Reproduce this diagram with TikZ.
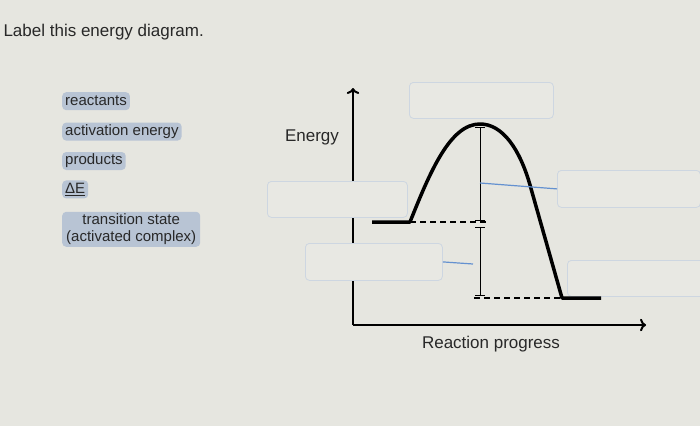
\documentclass[tikz,border=0pt]{standalone}
\usepackage{fontspec}
\setmainfont{Liberation Sans}
\usetikzlibrary{arrows.meta,positioning}

\definecolor{bg}{RGB}{230,230,224}
\definecolor{ink}{RGB}{40,40,40}
\definecolor{tagblue}{RGB}{184,196,212}
\definecolor{slotline}{RGB}{205,214,225}
\definecolor{slotfill}{RGB}{232,232,227}
\definecolor{hintblue}{RGB}{100,145,208}

\begin{document}
\begin{tikzpicture}[x=1pt,y=-1pt,node distance=11pt,font=\fontsize{15}{17}\selectfont,text=ink]
  \tikzstyle{tag}=[fill=tagblue,rounded corners=4pt,inner xsep=3pt,inner ysep=0pt,minimum height=18pt]
  \tikzstyle{slot}=[draw=slotline,fill=slotfill,rounded corners=4pt,line width=0.8pt,inner sep=0pt,anchor=north west]
  \tikzstyle{hint}=[draw=hintblue,line width=1.2pt]
  \tikzstyle{bigtext}=[font=\fontsize{17}{20}\selectfont]

  \useasboundingbox (0,0) rectangle (700,426);
  \fill[bg] (0,0) rectangle (700,426);

  \node[bigtext,anchor=west] (title) at (0,32) {Label this energy diagram.};

  % answer tags
  \node[tag,anchor=north west]                                   (reac) at (62,92) {reactants};
  \node[tag,below=12pt of reac.south west,anchor=north west]     (act)  {activation energy};
  \node[tag,below=of act.south west,anchor=north west]           (prod) {products};
  \node[tag,below=10pt of prod.south west,anchor=north west]     (dE)   {\underline{ΔE}};
  \node[tag,below=13pt of dE.south west,anchor=north west,align=center,minimum width=138pt,minimum height=35pt] (ts)
        {transition state\\(activated complex)};

  % axes
  \coordinate (o)    at (353,325);
  \coordinate (ytop) at (353,88);
  \coordinate (xend) at (646,325);
  \draw[line width=2pt,->] (o) -- (ytop);
  \draw[line width=2pt,->] (o) -- (xend);
  \node[bigtext] (energy) at (312,137) {Energy};
  \node[bigtext] (progress) at (491,344) {Reaction progress};

  % empty drop boxes
  \node[slot,minimum width=144pt,minimum height=36pt] (slott) at (409,82)  {};
  \node[slot,minimum width=140pt,minimum height=36pt] (slotl) at (267,181) {};
  \node[slot,minimum width=143pt,minimum height=37pt] (slotr) at (557,170) {};
  \node[slot,minimum width=137pt,minimum height=37pt] (slotm) at (305,243) {};
  \node[slot,minimum width=140pt,minimum height=36pt] (slotp) at (567,260) {};

  % energy curve
  \coordinate (r0)   at (372,222);
  \coordinate (r1)   at (410,222);
  \coordinate (peak) at (480,124);
  \coordinate (p0)   at (562,298);
  \coordinate (p1)   at (601,298);
  \draw[dashed,line width=2pt,dash pattern=on 6pt off 4pt] (r1) -- (489,222);
  \draw[dashed,line width=2pt,dash pattern=on 6pt off 4pt] (474,298) -- (p0);
  \draw[line width=3.5pt,line join=round]
    (r0) -- (r1) .. controls (430,172) and (450,124) .. (peak)
    .. controls (503,124) and (520,150) .. (530,185) -- (p0) -- (p1);

  % energy differences
  \draw[line width=1pt,{Bar[width=10pt]}-{Bar[width=10pt]}] (480,127) -- (480,221);
  \draw[line width=1pt,{Bar[width=10pt]}-{Bar[width=10pt]}] (480,227) -- (480,296);

  % hint lines
  \coordinate (ahint)  at (480,183);
  \coordinate (dEhint) at (473,264);
  \path[hint] (ahint) -- (slotr.west)
              (slotm.east) -- (dEhint);
\end{tikzpicture}
\end{document}
